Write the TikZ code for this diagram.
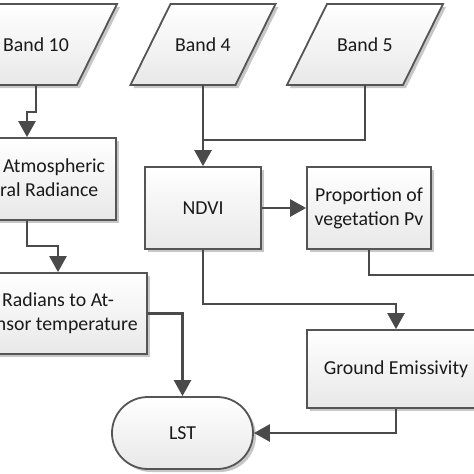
\documentclass[tikz,border=0pt]{standalone}
\usepackage{fontspec}
\setmainfont{Carlito}
\usetikzlibrary{arrows.meta,shadows,calc}
\definecolor{edge}{HTML}{555555}
\definecolor{wire}{HTML}{4A4A4A}
\definecolor{ink}{HTML}{1A1A1A}
\tikzset{
  boxsty/.style={draw=edge, line width=1.8pt, top color=white, bottom color=gray!18,
    drop shadow={shadow xshift=3pt, shadow yshift=-3pt, fill=black, opacity=0.22}},
  txt/.style={text=ink, font=\fontsize{19.8}{24}\selectfont, align=center},
  rectbox/.style={boxsty, txt, inner sep=0pt, minimum width=#1},
  conn/.style={draw=wire, line width=2.6pt, -{Triangle[length=16pt,width=17pt]}},
  plainconn/.style={draw=wire, line width=2.6pt}
}
\newcommand\parabox[4]{%
  \path[boxsty] (#2-#3/2-20,85) -- (#2+#3/2-20,85) -- (#2+#3/2+20,4) -- (#2-#3/2+20,4) -- cycle;
  \node[txt, minimum height=81pt, minimum width=1pt, inner sep=0pt] (#1) at (#2,44.5) {#4};
}
\begin{document}
\begin{tikzpicture}[x=1pt,y=-1pt]
\useasboundingbox (0,0) rectangle (474,474);
\fill[white] (0,0) rectangle (474,474);
\clip (0,0) rectangle (474,474);

\parabox{b10}{36}{122}{Band 10}
\parabox{b4}{203}{105}{Band 4}
\parabox{b5}{365}{116}{Band 5}

\node[rectbox=178pt, minimum height=82pt] (atm) at (27,179) {Top of Atmospheric\\Spectral Radiance};
\node[rectbox=178pt, minimum height=81pt] (rad) at (58,313.5) {Radians to At-\\sensor temperature};
\node[rectbox=116pt, minimum height=82pt] (ndvi) at (203,208) {NDVI};
\node[rectbox=124pt, minimum height=82pt] (pv) at (369,208) {Proportion of\\vegetation Pv};
\node[rectbox=178pt, minimum height=78pt] (ge) at (396,369) {Ground Emissivity};
\node[rectbox=141pt, minimum height=72pt, rounded corners=35.9pt] (lst) at (182.5,433) {LST};

\coordinate (join) at (203,140);
\coordinate (offright) at (490,275);

\draw[conn] (b10.south) -- (b10.south |- 0,112) -| (atm.north);
\draw[conn] (atm.south) -- (atm.south |- 0,246) -| (rad.north);
\draw[conn] (rad.east) -| (lst.north);
\draw[conn] (b4.south) -- (ndvi.north);
\draw[plainconn] (b5.south) |- (join);
\draw[conn] (ndvi.east) -- (pv.west);
\draw[conn] (ndvi.south) -- (ndvi.south |- 0,304) -| (ge.north);
\draw[plainconn] (pv.south) |- (offright);
\draw[conn] (ge.south) |- (lst.east);
\end{tikzpicture}
\end{document}
